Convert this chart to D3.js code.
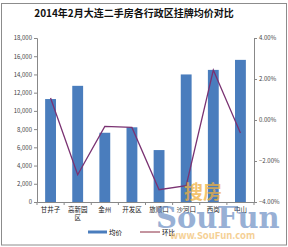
<!DOCTYPE html>
<html>
<head>
<meta charset="utf-8">
<script src="https://cdn.jsdelivr.net/npm/d3@7"></script>
<style>
  body { margin: 0; background: #fff; }
  text { font-family: "Noto Sans CJK SC", "DejaVu Sans", sans-serif; }
</style>
</head>
<body>
<div id="chart"></div>
<script>
// districts, average listing price and month-on-month change
const districts = ["甘井子", "高新园区", "金州", "开发区", "旅顺口", "沙河口", "西岗", "中山"]
const avgPrice = [11300, 12750, 7600, 8200, 5700, 14000, 14500, 15600]
const momChange = [1.07, -2.67, -0.31, -0.36, -3.4, -3.2, 2.44, -0.63]
const priceTicks = [0, 2000, 4000, 6000, 8000, 10000, 12000, 14000, 16000, 18000]
const pctTicks = [-4, -2, 0, 2, 4]

var W = 288, H = 247
var margin = {top: 38, right: 34, bottom: 45, left: 37},
  width = W - margin.left - margin.right,
  height = H - margin.top - margin.bottom

var svg = d3.select("#chart").append("svg")
  .attr("width", W).attr("height", H)

// outer frame
svg.append("rect")
  .attr("x", 1.5).attr("y", 3.5).attr("width", 285).attr("height", 241.5)
  .attr("fill", "none").attr("stroke", "#8c8c8c").attr("stroke-width", 1)

svg.append("text")
  .attr("x", 134).attr("y", 17)
  .attr("text-anchor", "middle")
  .style("font-size", "10px").style("font-weight", "bold")
  .style("fill", "#111")
  .text("2014年2月大连二手房各行政区挂牌均价对比")

var g = svg.append("g")
  .attr("transform", "translate(" + margin.left + "," + margin.top + ")")

var x = d3.scaleBand().domain(districts).range([0, width]).paddingInner(0.6).paddingOuter(0.3)
var y = d3.scaleLinear().domain([0, 18000]).range([height, 0])
var y2 = d3.scaleLinear().domain([-4, 4]).range([height, 0])

// bars
g.selectAll("rect.bar")
  .data(avgPrice)
  .enter().append("rect")
  .attr("class", "bar")
  .attr("x", (d, i) => x(districts[i]))
  .attr("width", x.bandwidth())
  .attr("y", d => y(d))
  .attr("height", d => height - y(d))
  .attr("fill", "#4a7dbd")

// line
var line = d3.line()
  .x((d, i) => x(districts[i]) + x.bandwidth() / 2)
  .y(d => y2(d))
g.append("path")
  .datum(momChange)
  .attr("d", line)
  .attr("fill", "none")
  .attr("stroke", "#7a3272")
  .attr("stroke-width", 1.3)

// left axis
var yAxis = g.append("g")
  .call(d3.axisLeft(y).tickValues(priceTicks).tickSize(3).tickPadding(2))
yAxis.selectAll("text").style("font-size", "6px").style("fill", "#444")
yAxis.selectAll("line, path").attr("stroke", "#888")

// right axis
var y2Axis = g.append("g")
  .attr("transform", "translate(" + width + ",0)")
  .call(d3.axisRight(y2).tickValues(pctTicks).tickSize(3).tickPadding(2)
    .tickFormat(d => d3.format(".2f")(d) + "%"))
y2Axis.selectAll("text").style("font-size", "6px").style("fill", "#444")
y2Axis.selectAll("line, path").attr("stroke", "#888")

// bottom axis, ticks between categories
var xAxis = g.append("g")
  .attr("transform", "translate(0," + height + ")")
  .call(d3.axisBottom(x).tickSize(0).tickPadding(5))
xAxis.select("path").attr("stroke", "#888")
xAxis.selectAll("text").style("font-size", "6.5px").style("fill", "#222")
  .each(function(d) {
    if (d.length > 3) {
      var t = d3.select(this).text(null)
      t.append("tspan").attr("x", 0).text(d.slice(0, 3))
      t.append("tspan").attr("x", 0).attr("dy", "1.3em").text(d.slice(3))
    }
  })
var step = x.step()
xAxis.selectAll("line.sep")
  .data(d3.range(districts.length + 1))
  .enter().append("line")
  .attr("class", "sep")
  .attr("x1", i => x(districts[0]) - x.paddingInner() * step / 2 + i * step)
  .attr("x2", i => x(districts[0]) - x.paddingInner() * step / 2 + i * step)
  .attr("y1", 0).attr("y2", 3)
  .attr("stroke", "#888")

// legend
var legend = svg.append("g").attr("transform", "translate(88,232)")
legend.append("line").attr("x1", 0).attr("x2", 19).attr("stroke", "#4a7dbd").attr("stroke-width", 3)
legend.append("text").attr("x", 21).attr("y", 2.5).style("font-size", "6.5px").text("均价")
legend.append("line").attr("x1", 52).attr("x2", 72).attr("stroke", "#8a2a40").attr("stroke-width", 1)
legend.append("text").attr("x", 74).attr("y", 2.5).style("font-size", "6.5px").text("环比")

// watermark
var wm = svg.append("g").style("pointer-events", "none")
wm.append("text").attr("x", 184).attr("y", 199)
  .style("font-size", "19px").style("font-weight", "bold").style("fill", "#f0b040").style("opacity", 0.75)
  .text("搜房")
wm.append("text").attr("x", 156).attr("y", 228)
  .style("font-family", "DejaVu Serif, serif")
  .style("font-size", "29px").style("font-weight", "bold").style("fill", "#6d8fc4").style("opacity", 0.7)
  .text("SouFun")
wm.append("text").attr("x", 170).attr("y", 239)
  .style("font-size", "9.5px").style("font-weight", "bold").style("fill", "#f3c57a").style("opacity", 0.8)
  .text("www.SouFun.com")
</script>
</body>
</html>
